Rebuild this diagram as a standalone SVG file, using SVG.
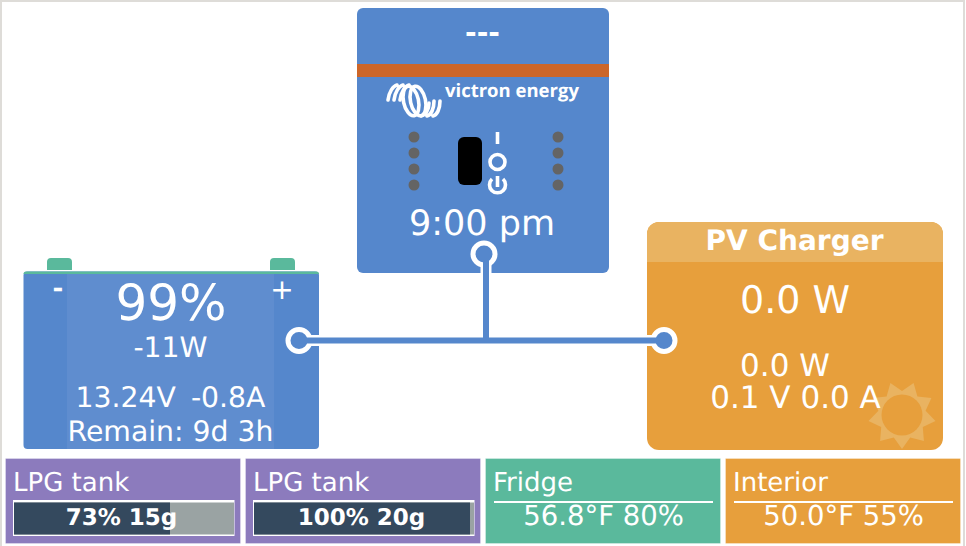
<svg xmlns="http://www.w3.org/2000/svg" width="966" height="546" viewBox="0 0 966 546">
<style>
text{font-family:"DejaVu Sans",sans-serif;fill:#fff;text-rendering:geometricPrecision}
.m{text-anchor:middle}
.b{font-weight:bold}
.led{fill:#646464}
.t{font-size:26px}
.u{font-size:28.3px}
.v{font-size:31px}
.coil{fill:none;stroke:#fff;stroke-width:3.6;stroke-linecap:round}
.sym{fill:none;stroke:#fff;stroke-width:3.6}
.node{fill:#5587cc;stroke:#fff;stroke-width:5}
.tile{stroke:#fff;stroke-opacity:.3}
</style>
<rect width="966" height="546" fill="#fff"/>
<path d="M1 546V1H964V546" fill="none" stroke="#dedcd8" stroke-width="2"/>
<g id="inverter">
<rect x="357" y="8" width="252" height="265" rx="6" fill="#5587cc"/>
<rect x="357" y="64" width="252" height="13" fill="#cc6629"/>
<text class="m b" x="482.500" y="42" font-size="28">---</text>
<g class="coil">
<path d="M388 100C389 92 393 86 397 85M394 100C395 92 399 86 403 85M400 100C401 92 405 86 409 85"/>
<ellipse cx="411" cy="101" rx="7.500" ry="15" transform="rotate(-12 411 101)"/>
<ellipse cx="418" cy="101" rx="7.500" ry="15" transform="rotate(-12 418 101)"/>
<path d="M427 116C431 115 434 109 434 101M433 116C437 115 440 109 440 101M421 116C426 115 429 109 429 103"/>
</g>
<text x="445" y="97" font-size="18.500" font-weight="bold" style="font-family:'Open Sans',sans-serif">victron energy</text>
<g class="led">
<circle cx="414" cy="137" r="5.500"/><circle cx="414" cy="153" r="5.500"/><circle cx="414" cy="169" r="5.500"/><circle cx="414" cy="185" r="5.500"/>
<circle cx="558" cy="137" r="5.500"/><circle cx="558" cy="153" r="5.500"/><circle cx="558" cy="169" r="5.500"/><circle cx="558" cy="185" r="5.500"/>
</g>
<rect x="458" y="137" width="24" height="48" rx="6" fill="#000"/>
<path class="sym" d="M497.500 132V144"/>
<circle class="sym" cx="497.500" cy="162" r="7.500"/>
<path class="sym" d="M492 179A8 8 0 1 0 503 179M497.500 176V187"/>
<text class="m" x="482" y="235" font-size="35">9:00 pm</text>
</g>
<g id="battery">
<path d="M47 270V262a4 4 0 0 1 4-4H68a4 4 0 0 1 4 4V270ZM270 270V262a4 4 0 0 1 4-4H291a4 4 0 0 1 4 4V270Z" fill="#5ab99c"/>
<rect x="23.500" y="271.500" width="295.500" height="177.500" rx="4" fill="#5587cc"/>
<path d="M23.500 274a2.500 2.500 0 0 1 2.500-2.500H316.500a2.500 2.500 0 0 1 2.500 2.500Z" fill="#5ab99c"/>
<rect x="67" y="274" width="207" height="175" fill="#5f8dcf"/>
<text class="m b" x="58" y="297" font-size="26">-</text>
<text class="m" x="282" y="299" font-size="28">+</text>
<text class="m" x="171" y="320" font-size="50">99%</text>
<text class="m u" x="170.500" y="357">-11W</text>
<text class="m u" x="170.500" y="407">13.24V  <tspan dx="6">-0.8A</tspan></text>
<text class="m u" x="170.500" y="441">Remain: 9d 3h</text>
</g>
<g id="pv-charger">
<rect x="647" y="222" width="296" height="228" rx="12" fill="#e79f3c"/>
<path d="M647 262V234a12 12 0 0 1 12-12H931a12 12 0 0 1 12 12V262Z" fill="#e9b361"/>
<polygon points="902,449 893.800,437.600 880.100,441 881.200,427 868.500,420.900 878.400,410.800 872.600,398 886.600,396.600 890.400,383 902,391 913.600,383 917.400,396.600 931.400,398 925.600,410.800 935.500,420.900 922.800,427 923.900,441 910.200,437.600" fill="#e9b361"/>
<circle cx="902" cy="415" r="20.500" fill="#e79f3c"/>
<text class="m b" x="794.500" y="250" font-size="28">PV Charger</text>
<text class="m" x="795" y="313" font-size="38">0.0 W</text>
<text class="m v" x="785" y="376">0.0 W</text>
<text class="m v" x="795.500" y="408">0.1 V 0.0 A</text>
</g>
<g id="connectors" fill="none">
<path d="M299 340.500H664M486 254V340.500" stroke="#fff" stroke-width="11"/>
<circle class="node" cx="484" cy="254" r="11"/>
<circle class="node" cx="299" cy="340.500" r="11"/>
<circle class="node" cx="664" cy="340.500" r="11"/>
<path d="M299 340.500H664M486 254V340.500" stroke="#5587cc" stroke-width="6"/>
</g>
<g id="tank-1">
<rect class="tile" x="5.500" y="458.500" width="235" height="85" fill="#8c7bbd"/>
<text x="13" y="491" class="t">LPG tank</text>
<rect x="13" y="500" width="221.500" height="36" fill="#fff"/>
<rect x="14" y="502.500" width="220" height="32" fill="#9aa3a3"/>
<rect x="14" y="502.500" width="156" height="32" fill="#34495e"/>
<text class="m b" x="121.500" y="525" font-size="23">73% 15g</text>
</g>
<g id="tank-2">
<rect class="tile" x="245.500" y="458.500" width="235" height="85" fill="#8c7bbd"/>
<text x="253" y="491" class="t">LPG tank</text>
<rect x="253" y="500" width="221.500" height="36" fill="#fff"/>
<rect x="254" y="502.500" width="220" height="32" fill="#9aa3a3"/>
<rect x="254" y="502.500" width="216" height="32" fill="#34495e"/>
<text class="m b" x="361.500" y="525" font-size="23">100% 20g</text>
</g>
<g id="fridge">
<rect class="tile" x="485.500" y="458.500" width="235" height="85" fill="#5ab99c"/>
<text x="493" y="491" class="t">Fridge</text>
<rect x="494" y="501" width="219" height="2" fill="#fff"/>
<text class="m" x="603.500" y="525" font-size="27.500">56.8°F 80%</text>
</g>
<g id="interior">
<rect class="tile" x="725.500" y="458.500" width="235" height="85" fill="#e79f3c"/>
<text x="733" y="491" class="t">Interior</text>
<rect x="734" y="501" width="219" height="2" fill="#fff"/>
<text class="m" x="843.500" y="525" font-size="27.500">50.0°F 55%</text>
</g>
</svg>
